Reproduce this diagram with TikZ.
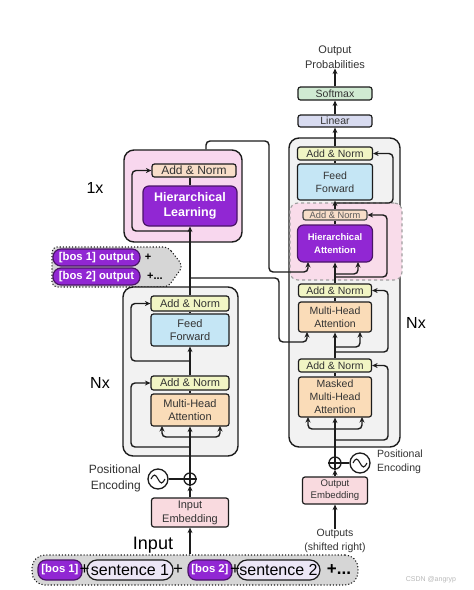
\documentclass[tikz,border=0pt]{standalone}
\usepackage{fontspec}
\setmainfont{Liberation Sans}
\usetikzlibrary{arrows.meta,calc}
\definecolor{linecol}{HTML}{1C1C1C}
\definecolor{txtcol}{HTML}{333333}
\definecolor{pinkbg}{HTML}{F8D7EE}
\definecolor{purp}{HTML}{9127D3}
\definecolor{purpd}{HTML}{4A1466}
\definecolor{peach}{HTML}{F8DEC9}
\definecolor{yellowc}{HTML}{F1F5C4}
\definecolor{bluec}{HTML}{C5E6F5}
\definecolor{orangec}{HTML}{FADCB8}
\definecolor{greenc}{HTML}{D0EAD2}
\definecolor{linc}{HTML}{D8DBF0}
\definecolor{embc}{HTML}{F9DADF}
\definecolor{greyblk}{HTML}{F2F2F2}
\definecolor{dashpink}{HTML}{F9DCEA}
\definecolor{panelgrey}{HTML}{D6D6D6}
\definecolor{lav}{HTML}{ECE6F6}
\newcommand{\fz}[2]{\fontsize{#1pt}{#2pt}\selectfont}
\begin{document}
\begin{tikzpicture}[x=1pt,y=-1pt,
  every node/.style={inner sep=0pt},
  ln/.style={draw=linecol, line width=1.4pt, rounded corners=4pt},
  arr/.style={ln, -{Stealth[length=5.5pt,width=5pt]}},
  box/.style={draw=linecol, line width=1.2pt, rounded corners=2.5pt, align=center, text=txtcol},
  blk/.style={draw=linecol, line width=1.4pt, rounded corners=10pt},
  pbox/.style={draw=purpd, line width=1.2pt, fill=purp, rounded corners=6pt, align=center, text=white},
  bospill/.style={draw=purpd, line width=1.2pt, fill=purp, rounded corners=8pt, text=white, font=\bfseries\fz{11.3}{13}},
  sentpill/.style={draw=linecol, line width=1.2pt, fill=lav, rounded corners=10pt, font=\fz{16}{18}},
  circ/.style={draw=linecol, line width=1.3pt, circle}
]
\useasboundingbox (0,0) rectangle (474,590);
\fill[white] (0,0) rectangle (474,590);

% ================= LEFT: 1x block =================
\node[blk, fill=pinkbg, minimum width=118, minimum height=92] (blk1) at (183,196) {};
\node[box, fill=peach, minimum width=84, minimum height=13, font=\fz{12}{14}] (lan) at (194,170.5) {Add \& Norm};
\node[pbox, minimum width=94, minimum height=40, font=\bfseries\fz{12.5}{15}] (hl) at (190,206) {Hierarchical\\Learning};
\node[font=\fz{16}{18}] (onex) at (95,188) {1x};

% bos output panel
\draw[draw=linecol, dotted, line width=1.1pt, fill=panelgrey, rounded corners=5pt]
  (168,247) -- (183,266) -- (168,287) -- (52,287) -- (52,247) -- cycle;
\node[bospill, minimum width=87, minimum height=17] (bo1) at (96.5,257.5) {[bos 1] output};
\node[font=\bfseries\fz{11}{13}] (bp1) at (148,257) {+};
\node[bospill, minimum width=87, minimum height=17] (bo2) at (96.5,276.5) {[bos 2] output};
\node[font=\bfseries\fz{11}{13}] (bp2) at (155,276.5) {+...};

% ================= LEFT: encoder =================
\node[blk, fill=greyblk, minimum width=115, minimum height=169] (eblk) at (180.5,371.5) {};
\node[box, fill=yellowc, minimum width=78, minimum height=15, font=\fz{11}{13}] (ean1) at (190,303.5) {Add \& Norm};
\node[box, fill=bluec, minimum width=78, minimum height=32, font=\fz{11}{13}] (eff) at (190,330) {Feed\\Forward};
\node[box, fill=yellowc, minimum width=78, minimum height=14, font=\fz{11}{13}] (ean2) at (190,383) {Add \& Norm};
\node[box, fill=orangec, minimum width=78, minimum height=32, font=\fz{11}{13}] (emha) at (190,410) {Multi-Head\\Attention};
\node[font=\fz{16}{18}] (nxl) at (100,383) {Nx};

% positional encoding (left)
\node[circ, minimum size=20] (sin1) at (158,479) {};
\draw[linecol, line width=1.1pt] (sin1.center) ++(-7,0) sin ++(3.5,-4) cos ++(3.5,4) sin ++(3.5,4) cos ++(3.5,-4);
\node[circ, minimum size=12] (pl1) at (190,479) {};
\draw[linecol, line width=1.1pt] (pl1.north) -- (pl1.south) (pl1.west) -- (pl1.east);
\node[anchor=east, align=right, text=txtcol, font=\fz{12}{16}] (pe1) at (141,478) {Positional\\Encoding};
\node[box, fill=embc, minimum width=77, minimum height=29, font=\fz{11}{14}] (emb1) at (190,512.5) {Input\\Embedding};
\node[font=\fz{18}{20}] (inp) at (153,545) {Input};

% input row
\node[draw=linecol, dotted, line width=1.1pt, fill=panelgrey, rounded corners=13pt, minimum width=326, minimum height=30] (inrow) at (195,570) {};
\node[sentpill, minimum width=86, minimum height=20] (s1) at (130,570) {sentence 1};
\node[sentpill, minimum width=83, minimum height=20] (s2) at (278.5,570) {sentence 2};
\node[bospill, minimum width=44, minimum height=20] (b1) at (60,570) {[bos 1]};
\node[bospill, minimum width=44, minimum height=20] (b2) at (210,570) {[bos 2]};
\node[font=\fz{17}{18}] (p1) at (84.5,570) {+};
\node[font=\fz{17}{18}] (p2) at (178,570) {+};
\node[font=\fz{17}{18}] (p3) at (235,570) {+};
\node[font=\bfseries\fz{17}{18}] (p4) at (339,570) {+...};

% ---- left connectors ----
\draw[arr] (emb1.south |- inrow.north) -- (emb1.south);
\draw[arr] (emb1.north) -- (pl1.south);
\draw[ln] (sin1.east) -- (pl1.west);
\draw[arr] (pl1.north) -- (emha.south);
\draw[arr] (190,437) -- (162,437) -- (162,426);
\draw[arr] (190,437) -- (220,437) -- (220,426);
\draw[arr] (190,447) -- (131,447) -- (131,383) -- (ean2.west);
\draw[ln] (emha.north) -- (ean2.south);
\draw[arr] (ean2.north) -- (eff.south);
\draw[arr] (190,361) -- (131,361) -- (131,303.5) -- (ean1.west);
\draw[ln] (eff.north) -- (ean1.south);
\draw[arr] (ean1.north) -- (hl.south);
\draw[arr] (190,231) -- (132,231) -- (132,170.5) -- (lan.west);
\draw[ln] (hl.north) -- (hl.north |- lan.south);

% ================= RIGHT: decoder =================
\node[blk, fill=greyblk, minimum width=111, minimum height=309] (dblk) at (344.5,292.5) {};
\node[draw=gray!75, dashed, line width=1.1pt, fill=dashpink, rounded corners=8pt, minimum width=112, minimum height=77] (hreg) at (346,241.5) {};
\node[box, fill=yellowc, minimum width=75, minimum height=13, font=\fz{10.5}{12}] (dan1) at (335,153.5) {Add \& Norm};
\node[box, fill=bluec, minimum width=75, minimum height=36, font=\fz{10.5}{13}] (dff) at (335,182) {Feed\\Forward};
\node[box, draw=linecol!80, fill=peach, minimum width=64, minimum height=10, text=txtcol!80, font=\fz{9.3}{11}] (han) at (335,215) {Add \& Norm};
\node[pbox, minimum width=75, minimum height=37, font=\bfseries\fz{9.5}{13}] (ha) at (335,243.5) {Hierarchical\\Attention};
\node[box, fill=yellowc, minimum width=73, minimum height=13, font=\fz{10.5}{12}] (dan2) at (335,290.5) {Add \& Norm};
\node[box, fill=orangec, minimum width=73, minimum height=30, font=\fz{10.5}{13}] (dmha) at (335,317) {Multi-Head\\Attention};
\node[box, fill=yellowc, minimum width=73, minimum height=13, font=\fz{10.5}{12}] (dan3) at (335,365.5) {Add \& Norm};
\node[box, fill=orangec, minimum width=73, minimum height=40, font=\fz{10.5}{13}] (dmm) at (335,397) {Masked\\Multi-Head\\Attention};
\node[font=\fz{16}{18}] (nxr) at (416,323) {Nx};

\node[box, fill=linc, minimum width=74, minimum height=12, font=\fz{10.5}{12}] (lin) at (335,121) {Linear};
\node[box, fill=greenc, minimum width=74, minimum height=13, font=\fz{10.5}{12}] (smx) at (335,93.5) {Softmax};
\node[align=center, text=txtcol, font=\fz{11}{15}] (oprob) at (335,57) {Output\\Probabilities};

% positional encoding (right)
\node[circ, minimum size=12] (pl2) at (335,463) {};
\draw[linecol, line width=1.1pt] (pl2.north) -- (pl2.south) (pl2.west) -- (pl2.east);
\node[circ, minimum size=20] (sin2) at (360,463) {};
\draw[linecol, line width=1.1pt] (sin2.center) ++(-7,0) sin ++(3.5,-4) cos ++(3.5,4) sin ++(3.5,4) cos ++(3.5,-4);
\node[anchor=west, align=left, text=txtcol, font=\fz{10.5}{14}] (pe2) at (377,462) {Positional\\Encoding};
\node[box, fill=embc, minimum width=65, minimum height=27, font=\fz{9.6}{12}] (oemb) at (335,490.5) {Output\\Embedding};
\node[align=center, text=txtcol, font=\fz{10.5}{14}] (outs) at (335,541) {Outputs\\(shifted right)};

% ---- right connectors ----
\draw[arr] (outs.north) -- (oemb.south);
\draw[arr] (oemb.north) -- (pl2.south);
\draw[ln] (pl2.east) -- (sin2.west);
\draw[arr] (pl2.north) -- (dmm.south);
\draw[arr] (335,429) -- (308,429) -- (308,417);
\draw[arr] (335,429) -- (362,429) -- (362,417);
\draw[arr] (335,440) -- (388,440) -- (388,365.5) -- (dan3.east);
\draw[ln] (dmm.north) -- (dan3.south);
\draw[arr] (dan3.north) -- (dmha.south);
\draw[arr] (335,347) -- (360,347) -- (360,332);
\draw[arr] (335,352) -- (388,352) -- (388,290.5) -- (dan2.east);
\draw[ln] (dmha.north) -- (dan2.south);
\draw[arr] (dan2.north) -- (ha.south);
\draw[arr] (335,274) -- (358,274) -- (358,262);
\draw[arr] (335,277) -- (387,277) -- (387,215) -- (han.east);
\draw[ln] (ha.north) -- (han.south);
\draw[arr] (han.north) -- (dff.south);
\draw[arr] (335,203) -- (393,203) -- (393,153.5) -- (dan1.east);
\draw[ln] (dff.north) -- (dan1.south);
\draw[arr] (dan1.north) -- (lin.south);
\draw[arr] (lin.north) -- (smx.south);
\draw[arr] (smx.north) -- (oprob.south);

% ---- cross connectors ----
\draw[arr] (blk1.north) ++(23,0) -- (206,141) -- (269,141) -- (269,272) -- (308,272) -- (308,262);
\draw[arr] (190,278) -- (279,278) -- (279,342) -- (307,342) -- (307,332);

% watermark
\node[text=gray!55, font=\fz{7}{8}] (wm) at (431,580) {CSDN @angryp};
\end{tikzpicture}
\end{document}
